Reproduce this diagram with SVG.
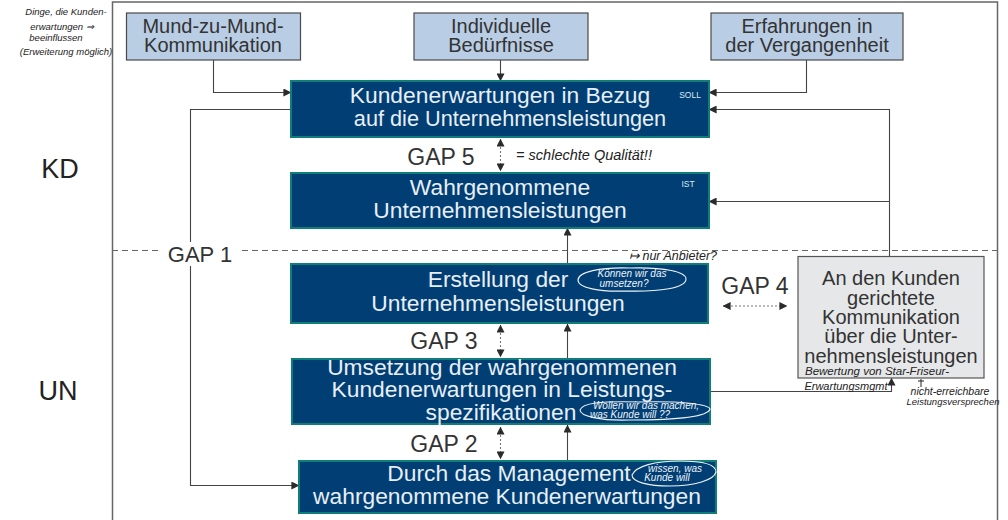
<svg xmlns="http://www.w3.org/2000/svg" width="1008" height="520" viewBox="0 0 1008 520">
<defs>
<marker id="a" viewBox="0 0 10 10" refX="9.5" refY="5" markerWidth="8" markerHeight="8" markerUnits="userSpaceOnUse" orient="auto-start-reverse" ><path d="M0 0L10 5L0 10Z" fill="#2b2b2b"/></marker>
</defs>
<style>
text{font-family:"Liberation Sans",Arial,sans-serif;text-anchor:middle}
.lb rect{fill:#b9cde4;stroke:#4a4a4a;stroke-width:1.2}
.lb text{font-size:20px;fill:#333}
.db rect{fill:#003e74;stroke:#0f7d78;stroke-width:2}
.db text{font-size:22.800px;fill:#e8eff6}
.gr rect{fill:#e6e7e9;stroke:#555;stroke-width:1.2}
.gr text{font-size:20px;fill:#333}
.c path{fill:none;stroke:#444;stroke-width:1.1}
.s{marker-end:url(#a)}
.d{marker-start:url(#a);marker-end:url(#a);stroke-dasharray:2 2;stroke:#777!important}
.gap{font-size:23px;fill:#333}
.side{font-size:27px;fill:#222}
text.h{font-style:italic;fill:#222;font-size:9.500px}
.db text.hw{font-style:italic;fill:#eef3f8;font-size:10px}
.db text.tag{fill:#dfe8f0;font-size:8.500px}
.el{fill:none;stroke:#eef3f8;stroke-width:1.1}
</style>
<rect width="1008" height="520" fill="#fff"/>
<g id="frame" fill="none">
<path d="M112.500 520V2H997.500V520" stroke="#666" stroke-width="1.500"/>
<path d="M112 250.500H998" stroke="#666" stroke-width="1.100" stroke-dasharray="6 4"/>
</g>
<g class="c" id="connectors">
<path class="s" d="M213.500 60V92.500H291"/>
<path class="s" d="M500.500 60V81"/>
<path class="s" d="M806.500 60V92.500H709"/>
<path class="s" d="M889.500 256V109.500H709"/>
<path class="s" d="M889.500 201.500H709"/>
<path class="s" d="M291 109.500H190.500V485.500H299"/>
<path class="s" d="M567.500 264V228"/>
<path class="s" d="M567.500 359V324"/>
<path class="s" d="M567.500 461V425"/>
<path class="s" d="M710 391.500H891.500V378"/>
<path class="d" d="M500.500 139V171"/>
<path class="d" d="M500.500 325V357"/>
<path class="d" d="M500.500 427V459"/>
<path class="d" d="M723 306H787"/>
</g>
<g id="n-mund" class="lb"><rect x="126.500" y="13" width="174" height="47"/><text x="213" y="33">Mund-zu-Mund-</text><text x="213" y="52">Kommunikation</text></g>
<g id="n-bed" class="lb"><rect x="414" y="13" width="174" height="47"/><text x="501" y="33">Individuelle</text><text x="501" y="52">Bedürfnisse</text></g>
<g id="n-erf" class="lb"><rect x="711" y="13" width="192" height="47"/><text x="807" y="33">Erfahrungen in</text><text x="807" y="52">der Vergangenheit</text></g>
<g id="n-soll" class="db"><rect x="291" y="81" width="418" height="56"/><text x="500" y="103">Kundenerwartungen in Bezug</text><text x="510" y="126" style="font-size:21.700px">auf die Unternehmensleistungen</text><text class="tag" x="690" y="98">SOLL</text></g>
<g id="n-ist" class="db"><rect x="291" y="173" width="418" height="55"/><text x="500" y="195">Wahrgenommene</text><text x="500" y="218">Unternehmensleistungen</text><text class="tag" x="688" y="187">IST</text></g>
<g id="n-erst" class="db"><rect x="291" y="264" width="417" height="59"/><text x="498" y="287">Erstellung der</text><text x="498" y="311">Unternehmensleistungen</text><path class="el" d="M578 280C578 272 600 267 630 268C665 267 686 272 686 279C686 288 660 292 625 291C600 292 578 288 578 280Z"/><text class="hw" x="632" y="277">Können wir das</text><text class="hw" x="624" y="287">umsetzen?</text></g>
<g id="n-ums" class="db"><rect x="292" y="359" width="418" height="65"/><text x="502" y="375">Umsetzung der wahrgenommenen</text><text x="502" y="397">Kundenerwartungen in Leistungs-</text><text x="501" y="420">spezifikationen</text><path class="el" d="M580 410C582 403 600 401 640 402C680 401 708 404 710 409C708 416 680 420 630 420C600 421 580 416 580 410Z"/><text class="hw" x="646" y="409">Wollen wir das machen,</text><text class="hw" x="630" y="418">was Kunde will ??</text></g>
<g id="n-mgmt" class="db"><rect x="299" y="461" width="417" height="52"/><text x="509" y="481">Durch das Management</text><text x="507" y="504">wahrgenommene Kundenerwartungen</text><path class="el" d="M632 475C636 466 655 461 680 461C705 461 716 465 716 472C714 480 695 486 670 486C648 486 632 482 632 475Z"/><text class="hw" x="675" y="472">wissen, was</text><text class="hw" x="667" y="481">Kunde will</text></g>
<g id="n-komm" class="gr"><rect x="798" y="256.500" width="186" height="121.500"/><text x="891" y="285">An den Kunden</text><text x="891" y="305">gerichtete</text><text x="891" y="324">Kommunikation</text><text x="891" y="343">über die Unter-</text><text x="891" y="363">nehmensleistungen</text></g>
<g id="labels">
<text class="side" x="60" y="178">KD</text>
<text class="side" x="58" y="400">UN</text>
<rect x="160" y="242" width="78" height="24" fill="#fff"/>
<text class="gap" x="200" y="262" style="font-size:22px">GAP 1</text>
<text class="gap" x="441" y="165">GAP 5</text>
<text class="gap" x="444" y="349">GAP 3</text>
<text class="gap" x="444" y="452">GAP 2</text>
<text class="gap" x="755" y="294">GAP 4</text>
</g>
<g id="notes">
<text class="h" x="66" y="15">Dinge, die Kunden-</text>
<text class="h" x="62" y="30">erwartungen ⇒</text>
<text class="h" x="56" y="41">beeinflussen</text>
<text class="h" x="66" y="55">(Erweiterung möglich)</text>
<text class="h" x="584" y="160" style="font-size:14.500px">= schlechte Qualität!!</text>
<text class="h" x="673" y="260" style="font-size:12.500px">↦ nur Anbieter?</text>
<text class="h" x="877" y="374.500" style="font-size:11.500px">Bewertung von Star-Friseur-</text>
<text class="h" x="846" y="390" style="font-size:11px">Erwartungsmgmt</text>
<text class="h" x="950" y="395" style="font-size:10.500px">nicht-erreichbare</text>
<text class="h" x="953" y="405">Leistungsversprechen</text>
<path d="M921 387V379M918 381H924" stroke="#222" fill="none" stroke-width="1"/>
</g>
</svg>
